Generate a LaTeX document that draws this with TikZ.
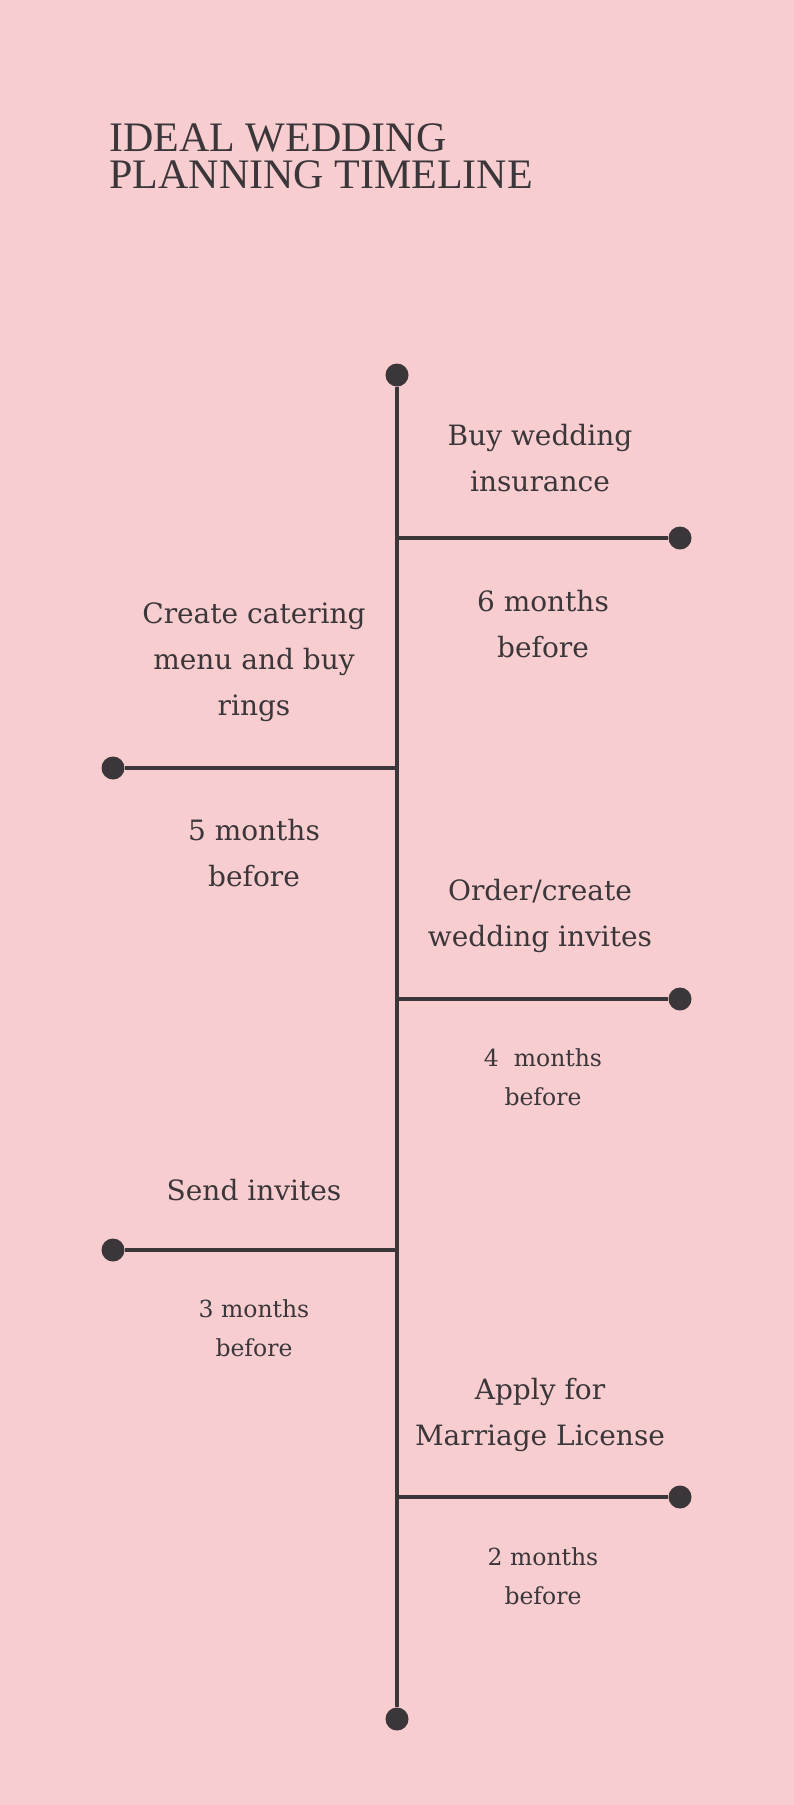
\documentclass[tikz,border=0pt]{standalone}
\usepackage{fontspec}
\setmainfont{Liberation Serif}
\newfontfamily\bodyfont{DejaVu Serif}
\definecolor{bg}{HTML}{F7CDD0}
\definecolor{ink}{HTML}{3A3639}
\begin{document}
\begin{tikzpicture}[x=1pt,y=-1pt,
  lbl/.style={text=ink,align=center,font=\bodyfont\fontsize{28}{46}\selectfont},
  sml/.style={text=ink,align=center,font=\bodyfont\fontsize{23.5}{39}\selectfont},
  ln/.style={draw=ink,line width=3.5pt},
  dot/.style={circle,fill=ink,inner sep=0pt,minimum size=23pt}]
\fill[bg] (0,0) rectangle (794,1805);
\useasboundingbox (0,0) rectangle (794,1805);
\node[anchor=west,text=ink,align=left,font=\fontsize{42}{37}\selectfont] (title) at (106,156) {IDEAL WEDDING\\PLANNING TIMELINE};
\node[dot] (top) at (397,375) {};
\node[dot] (bot) at (397,1719) {};
\draw[ln] (top) -- (bot);
\coordinate (j1) at (397,538); \node[dot] (e1) at (680,538) {};
\coordinate (j2) at (397,768); \node[dot] (e2) at (113,768) {};
\coordinate (j3) at (397,999); \node[dot] (e3) at (680,999) {};
\coordinate (j4) at (397,1250); \node[dot] (e4) at (113,1250) {};
\coordinate (j5) at (397,1497); \node[dot] (e5) at (680,1497) {};
\foreach \i in {1,...,5} \draw[ln] (j\i) -- (e\i);
\node[lbl] (t1) at (540,458) {Buy wedding\\insurance};
\node[lbl] (m1) at (543,624) {6 months\\before};
\node[lbl] (t2) at (254,662) {Create catering\\menu and buy\\rings};
\node[lbl] (m2) at (254,853) {5 months\\before};
\node[lbl] (t3) at (540,916) {Order/create\\wedding invites};
\node[sml] (m3) at (543,1077) {4~ months\\before};
\node[lbl] (t4) at (254,1190) {Send invites};
\node[sml] (m4) at (254,1328) {3 months\\before};
\node[lbl] (t5) at (540,1415) {Apply for\\Marriage License};
\node[sml] (m5) at (543,1576) {2 months\\before};
\end{tikzpicture}
\end{document}
